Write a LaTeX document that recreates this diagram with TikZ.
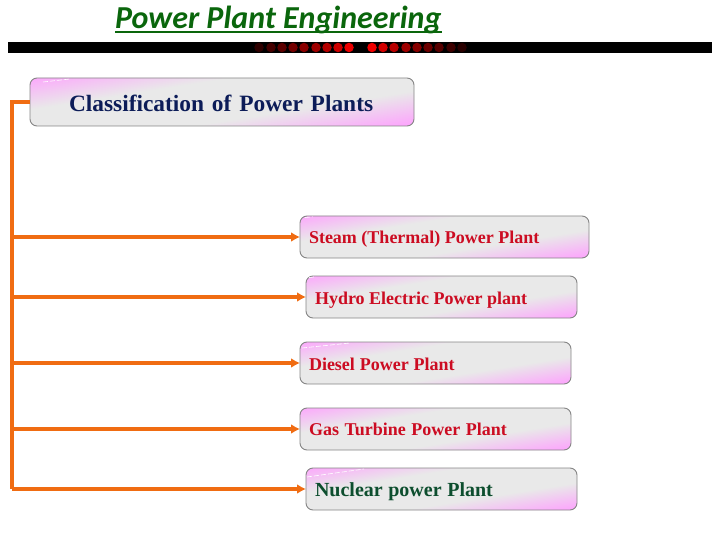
\documentclass[tikz,border=0pt]{standalone}
\usepackage{fontspec}
\setmainfont{Liberation Serif}
\newfontfamily\titlefont{Carlito}
\usetikzlibrary{arrows.meta}
\definecolor{pk}{HTML}{FF9CFF}
\definecolor{gr}{HTML}{E9E9E9}
\definecolor{orangeln}{HTML}{F06C12}
\definecolor{edgegr}{HTML}{858585}
\definecolor{redtx}{HTML}{CC0C22}
\definecolor{navytx}{HTML}{0C1C58}
\definecolor{greentx}{HTML}{0D4E2E}
\definecolor{titlegr}{HTML}{0A660C}
\newcommand{\snugwords}[2]{\spaceskip=#1\relax #2}
\pgfdeclareverticalshading{glossy}{100bp}{color(0bp)=(pk); color(18bp)=(pk); color(38bp)=(gr); color(60bp)=(gr); color(80bp)=(pk); color(100bp)=(pk)}
\tikzset{
  x=1pt,y=-1pt,
  plantbox/.style={draw=edgegr,line width=0.9pt,outer sep=0pt,rounded corners=7pt,shading=glossy,shading angle=189,
    anchor=north west,inner ysep=0pt,inner xsep=9pt,align=left,text depth=0pt},
  redbox/.style={plantbox,minimum width=271pt,minimum height=42pt,text width=253pt,text=redtx,font=\bfseries\fontsize{18}{20}\selectfont},
  feed/.style={draw=orangeln,line width=4pt},
  branch/.style={draw=orangeln,line width=4pt,-{Latex[length=9pt,width=10pt]}},
  gleam/.style={draw=white,line width=0.6pt,dash pattern=on 5pt off 2pt},
  bulb/.style={circle,inner sep=0pt,minimum size=9.5pt,draw=none},
}
\begin{document}
\begin{tikzpicture}
\useasboundingbox (0,0) rectangle (720,540);
\node[anchor=base west,inner sep=0pt,text=titlegr,font=\titlefont\fontsize{32}{34}\selectfont\bfseries\itshape] (title) at (115,29) {Power Plant Engineering};
\draw[titlegr,line width=1.9pt] ([yshift=-3.2pt]title.base west) -- ([yshift=-3.2pt]title.base east);
\fill[black] (8,42) rectangle (712,53);
\foreach \cx/\shade in {259/18,271/27,282/36,293/45,304/54,316/62,327/70,338/80,349/92,372/94,383/82,394/72,406/62,417/52,428/42,439/34,451/24,462/16}{
  \node[bulb,fill=red!\shade!black] (d\cx) at (\cx,47.5) {};
}
\node[plantbox,minimum width=384pt,minimum height=48pt,text width=306pt,inner xsep=39pt,text height=18.6pt,text=navytx,font=\bfseries\fontsize{23.4}{26}\selectfont] (main) at (30,78) {Classification of Power Plants};
\node[redbox,minimum width=289pt,text width=271pt,text height=12.6pt] (steam) at (300,216) {\snugwords{4.5pt}{Steam (Thermal) Power Plant}};
\node[redbox,text height=14pt] (hydro) at (306,276) {\snugwords{4.5pt}{Hydro Electric Power plant}};
\node[redbox,text height=14pt] (diesel) at (300,342) {\snugwords{4.8pt}{Diesel Power Plant}};
\node[redbox,text height=13.4pt] (gas) at (300,408) {\snugwords{5.5pt}{Gas Turbine Power Plant}};
\node[redbox,text height=14pt,text=greentx,font=\bfseries\fontsize{20}{22}\selectfont] (nuclear) at (306,468) {\snugwords{5.6pt}{Nuclear power Plant}};
\draw[gleam] (43,82) -- (70,79);
\draw[gleam] (302,348) -- (350,343);
\draw[gleam] (307,477) -- (364,469);
\draw[gleam] (305,217.5) -- (313,216.8);
\draw[gleam] (309,277.5) -- (316,276.8);
\coordinate (corner) at (12.3,102);
\coordinate (ts) at (12.3,237);
\coordinate (th) at (12.3,297);
\coordinate (td) at (12.3,363);
\coordinate (tg) at (12.3,429);
\coordinate (tn) at (12.3,489);
\draw[feed] (main.west) -- (corner) -- (tn);
\draw[branch] (ts) -- (steam.west);
\draw[branch] (th) -- (hydro.west);
\draw[branch] (td) -- (diesel.west);
\draw[branch] (tg) -- (gas.west);
\draw[branch] (tn) -- (nuclear.west);
\end{tikzpicture}
\end{document}
